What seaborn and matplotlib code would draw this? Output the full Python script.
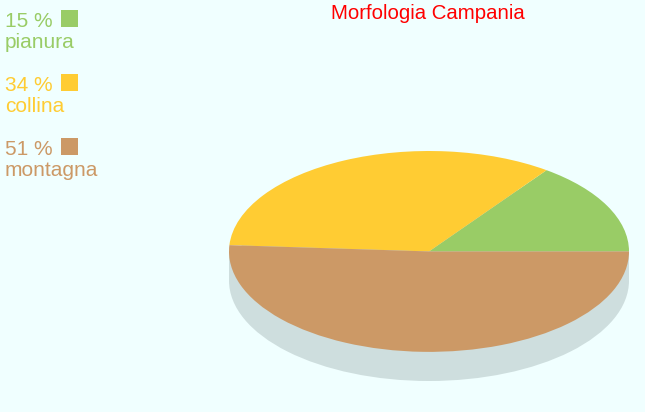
import matplotlib
matplotlib.use("Agg")
import matplotlib.pyplot as plt
import matplotlib.patches as mpatches
import seaborn as sns

# data
categories = ["pianura", "collina", "montagna"]
percents = [15, 34, 51]
slice_colors = ["#99CC66", "#FFCC33", "#CC9966"]
title = "Morfologia Campania"

BG = "#F0FFFF"
SHADOW = "#CEDEDE"

sns.set_theme(style="white", rc={"figure.facecolor": BG, "axes.facecolor": BG})
plt.rcParams["font.family"] = ["Liberation Sans", "DejaVu Sans"]
palette = sns.color_palette(slice_colors)

W, H = 645, 412
fig = plt.figure(figsize=(W / 100, H / 100), dpi=100)
fig.patch.set_facecolor(BG)

def fx(px):
    return px / W

def fy(py):
    return 1 - py / H

# pie axes: x 229..629 px, y 151..381 px (1 data unit = 200px wide / 100px tall)
ax = fig.add_axes([fx(229), fy(381), 400 / W, 230 / H])
depth = 0.29

# side / shadow of the disc
ax.add_patch(mpatches.Ellipse((0, -depth), 2, 2, facecolor=SHADOW, edgecolor="none", zorder=0))
ax.add_patch(mpatches.Rectangle((-1, -depth), 2, depth, facecolor=SHADOW, edgecolor="none", zorder=0))

wedges, _ = ax.pie(percents, colors=palette, startangle=0, counterclock=True,
                   radius=1, wedgeprops={"linewidth": 0, "edgecolor": "none"})
for w in wedges:
    w.set_zorder(2)

ax.set_aspect("auto")
ax.set_xlim(-1, 1)
ax.set_ylim(-1 - depth, 1)
ax.axis("off")

# title
fig.text(fx(428), fy(19), title, color="#FF0000", fontsize=14.7, ha="center", va="baseline")

# legend at top left
for i, (cat, pct, col) in enumerate(zip(categories, percents, slice_colors)):
    base = 27 + i * 64
    fig.text(fx(5), fy(base), f"{pct} %", color=col, fontsize=15, ha="left", va="baseline")
    fig.text(fx(5), fy(base + 21), cat, color=col, fontsize=15, ha="left", va="baseline")
    fig.patches.append(mpatches.Rectangle((fx(61), fy(base)), 17 / W, 17 / H,
                                          transform=fig.transFigure, facecolor=col,
                                          edgecolor="none", figure=fig))

fig.savefig("out.png", dpi=100, facecolor=BG)
